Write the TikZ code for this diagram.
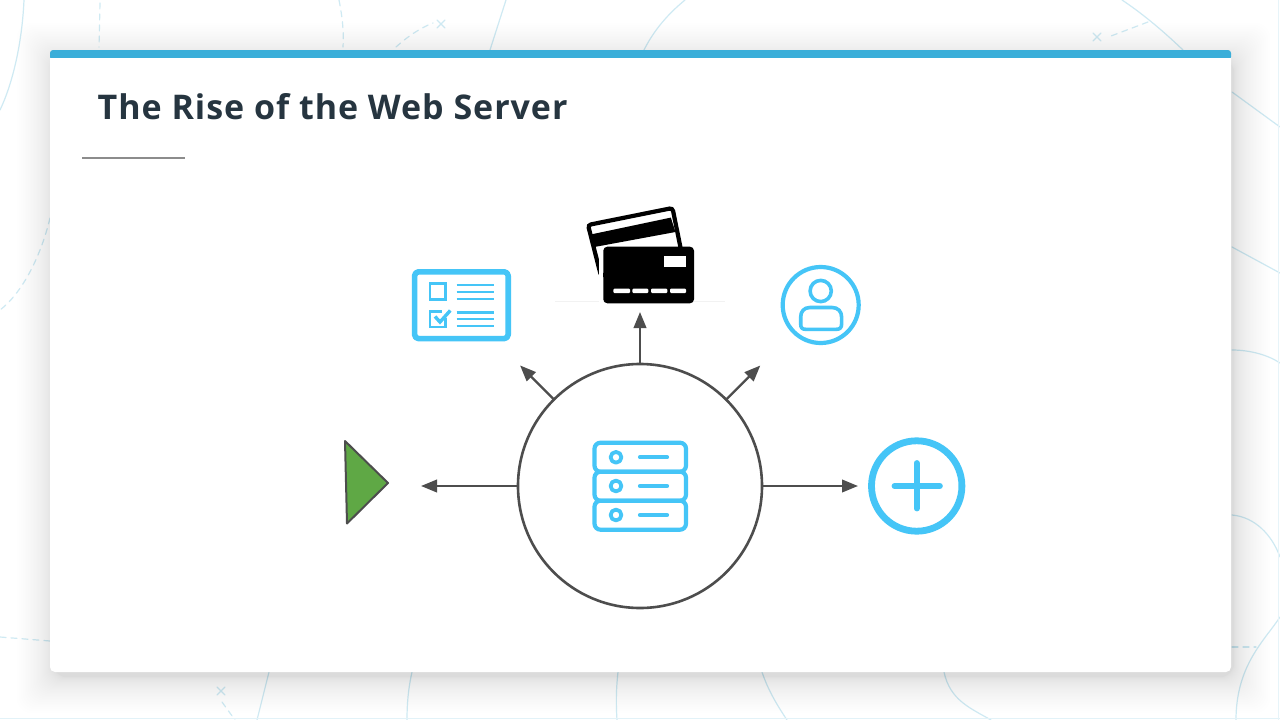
\documentclass[tikz,border=0pt]{standalone}
\usepackage{fontspec}
\setmainfont{Open Sans}
\newfontfamily\titlefont[LetterSpace=2.85]{Open Sans}
\usetikzlibrary{arrows.meta}
\definecolor{sky}{HTML}{45C5F7}
\definecolor{barblue}{HTML}{3AAED9}
\definecolor{deco}{HTML}{CFEAF3}
\definecolor{ink}{HTML}{4D4D4D}
\definecolor{titleink}{HTML}{263540}
\definecolor{leaf}{HTML}{5FA845}
\definecolor{rulegray}{HTML}{8C8C8C}
\tikzset{
  decoline/.style={draw=deco,line width=1.2pt,line cap=round},
  decodash/.style={decoline,dash pattern=on 6pt off 5pt},
  iconbox/.style={inner sep=0pt,outer sep=0pt},
  skyline/.style={draw=sky,line cap=round,line join=round},
  linkarrow/.style={draw=ink,line width=2.3pt,-{Triangle[length=16pt,width=12.5pt]}},
}
\begin{document}
\begin{tikzpicture}[x=1pt,y=-1pt]
\useasboundingbox (0,0) rectangle (1280,720);
\fill[white] (0,0) rectangle (1280,720);
% background decoration
\draw[decoline] (24,0) .. controls (22,45) and (12,85) .. (0,110);
\draw[decodash] (100,3) -- (99,47);
\draw[decodash] (339,0) .. controls (342,15) and (344,30) .. (343,47);
\draw[decodash] (396,47) .. controls (407,37) and (420,28) .. (433,23);
\draw[decoline] (437,20) -- (445,28) (445,20) -- (437,28);
\draw[decoline] (506,0) -- (490,50);
\draw[decoline] (685,0) .. controls (668,14) and (654,30) .. (644,50);
\draw[decoline] (1122,0) .. controls (1140,12) and (1160,28) .. (1183,50);
\draw[decodash] (1148,22) -- (1111,36);
\draw[decoline] (1093,33) -- (1101,41) (1101,33) -- (1093,41);
\draw[decoline] (1232,92) -- (1280,127);
\draw[decoline] (1232,247) -- (1280,273);
\draw[decoline] (1232,350) .. controls (1250,350) and (1268,355) .. (1280,363);
\draw[decoline] (1232,515) .. controls (1255,517) and (1272,535) .. (1280,557);
\draw[decoline] (1280,617) .. controls (1265,640) and (1236,665) .. (1236,720);
\draw[decodash] (1232,647) -- (1256,647);
\draw[decodash] (50,218) .. controls (40,260) and (20,295) .. (0,310);
\draw[decodash] (0,637) -- (50,641);
\draw[decoline] (269,672) -- (257,720);
\draw[decoline] (412,672) .. controls (408,690) and (407,705) .. (407,720);
\draw[decoline] (618,672) .. controls (616,690) and (616,705) .. (617,720);
\draw[decoline] (762,672) .. controls (768,690) and (777,705) .. (787,720);
\draw[decoline] (944,672) .. controls (950,700) and (970,708) .. (991,720);
\draw[decoline] (217,687) -- (225,695) (225,687) -- (217,695);
\draw[decodash] (222,702) -- (235,720);
\draw[draw=deco!60,line width=1.2pt] (0,718.5) -- (1280,718.5);
\draw[draw=deco!50,line width=1pt] (1278,0) -- (1278,720);
% card shadow
\foreach \i in {1,...,36}{
  \pgfmathsetmacro{\e}{\i*\i/36}
  \fill[black,opacity=0.0045,rounded corners=14pt]
    (50+3-\e,50+9-\e) rectangle (1231+3+\e,672+5+\e);
}
% card
\fill[white,rounded corners=5pt] (50,50) rectangle (1231,672);
\fill[barblue,rounded corners=3pt] (50,50) rectangle (1231,60);
\fill[white] (50,58) rectangle (1231,66);
\node[anchor=base west,inner sep=0pt,font=\titlefont\bfseries\fontsize{34}{40}\selectfont,text=titleink] (title) at (97.5,119) {The Rise of the Web Server};
\fill[rulegray] (82,156.5) rectangle (185,158.7);
\draw[draw=black!5,line width=0.6pt] (555,301) -- (725,301);

% hub and icon nodes
\node[circle,draw=ink,line width=2.6pt,minimum size=244pt,inner sep=0pt,outer sep=0pt] (hub) at (640,486) {};
\node[iconbox,minimum width=99pt,minimum height=72pt] (list) at (461,306) {};
\node[iconbox,minimum width=110pt,minimum height=98pt] (cards) at (640,254) {};
\node[iconbox,circle,minimum size=80pt] (user) at (820.7,305) {};
\node[iconbox,circle,minimum size=97.4pt] (plus) at (916.7,486) {};
\node[iconbox,minimum width=43pt,minimum height=84pt] (play) at (366.5,486) {};

% connectors
\draw[linkarrow,shorten >=33pt] (hub) -- (list);
\draw[linkarrow,shorten >=9pt] (hub.north) -- (cards.south);
\draw[linkarrow,shorten >=45.5pt] (hub) -- (user);
\draw[linkarrow,shorten >=10pt] (hub.east) -- (plus.west);
\draw[linkarrow,shorten >=33pt] (hub.west) -- (play.east);

% server icon
\foreach \ya/\yb in {442.7/471.7,471.7/500.7,500.7/529.7}{
  \draw[skyline,line width=4.2pt,rounded corners=6pt] (594.5,\ya) rectangle (686,\yb);
}
\foreach \y in {457.3,486,515}{
  \draw[skyline,line width=3.8pt] (616,\y) circle[radius=5.4pt];
  \draw[skyline,line width=4.2pt] (640,\y) -- (667,\y);
}

% list icon
\draw[skyline,line width=5.6pt,rounded corners=4pt] (414.6,271.8) rectangle (508.2,338.6);
\draw[skyline,line width=2.4pt,line cap=butt,line join=miter] (430,283.5) rectangle (445.5,299.5);
\foreach \y in {285,292,298.7,312.3,319,325.7}{
  \draw[draw=sky,line width=2.4pt] (456.7,\y) -- (493.5,\y);
}
\draw[draw=sky,line width=2.4pt,line join=miter] (445.5,318) -- (445.5,327) -- (430,327) -- (430,311.5) -- (442,311.5);
\draw[draw=sky,line width=3.4pt] (435,316.5) -- (440,322) -- (450.3,310.5);

% cards icon
\draw[draw=black,fill=white,line width=4.2pt,rounded corners=3pt] (601,276) -- (588,225) -- (672.5,208) -- (681,250) -- cycle;
\fill[black] (591.2,234.4) -- (670.8,217.6) -- (675.5,232) -- (594.4,247) -- cycle;
\fill[white] (599,248) rectangle (603.3,303.3);
\fill[black,rounded corners=4pt] (603.3,246.7) rectangle (694,303.3);
\fill[white] (664,256) rectangle (685.7,267);
\foreach \xa/\xb in {613.3/630,632.3/648.3,651/667.3,670/686}{
  \fill[white,rounded corners=1pt] (\xa,288.7) rectangle (\xb,293);
}

% user icon
\draw[skyline,line width=4.2pt] (820.7,305) circle[radius=38pt];
\draw[skyline,line width=3.6pt] (820.7,291) circle[radius=10.6pt];
\draw[skyline,line width=3.6pt] (810,307.5) -- (832,307.5) .. controls (838,307.5) and (841.6,311.5) .. (841.6,317) -- (841.6,324) .. controls (841.6,327.5) and (840,329.3) .. (836.5,329.3) -- (805.5,329.3) .. controls (802,329.3) and (800.7,327.5) .. (800.7,324) -- (800.7,317) .. controls (800.7,311.5) and (804,307.5) .. (810,307.5) -- cycle;

% plus icon
\draw[skyline,line width=6.8pt] (916.7,486) circle[radius=45.2pt];
\draw[skyline,line width=5.8pt] (894.5,486) -- (939.9,486) (916.7,463) -- (916.7,508.5);

% play icon
\draw[draw=ink,fill=leaf,line width=2pt,line join=round] (345,441) -- (388,483) -- (347,523.5) -- cycle;
\end{tikzpicture}
\end{document}
